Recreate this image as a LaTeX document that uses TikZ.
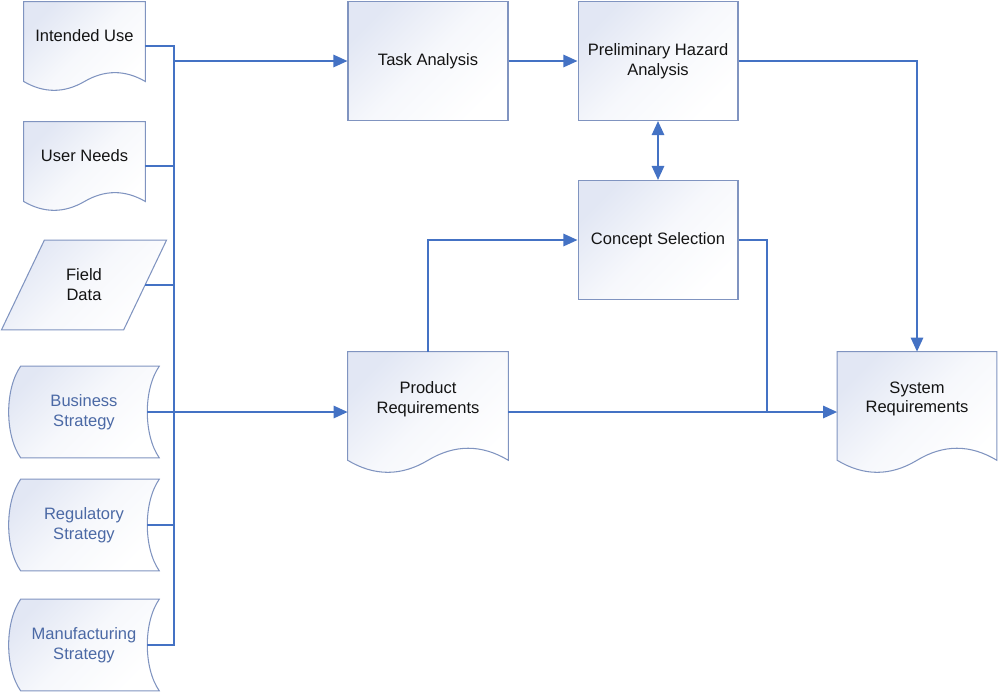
\documentclass[tikz,border=0pt]{standalone}
\usepackage{fontspec}
\setmainfont{Liberation Sans}
\usetikzlibrary{arrows.meta,calc,backgrounds}

\definecolor{linec}{RGB}{68,114,196}
\definecolor{edgec}{RGB}{128,148,192}
\definecolor{fillc}{RGB}{226,231,244}
\definecolor{stratc}{RGB}{75,105,165}
\definecolor{textc}{RGB}{20,20,20}

\tikzset{
  shapebox/.style={draw=edgec, line width=0.6pt, top color=fillc, bottom color=white, middle color=white!70!fillc, shading angle=45},
  txt/.style={font=\fontsize{9.4}{11.3}\selectfont, align=center, text=textc},
  procbox/.style={shapebox, txt, rectangle, minimum width=3.2cm, minimum height=2.38cm, inner sep=0pt},
  leftdoc/.style={minimum width=2.42cm, minimum height=1.76cm, inner sep=0pt},
  rightdoc/.style={minimum width=3.2cm, minimum height=2.4cm, inner sep=0pt},
  store/.style={txt, text=stratc, minimum width=2.52cm, minimum height=1.82cm, inner sep=0pt},
  dataio/.style={txt, minimum width=2.43cm, minimum height=1.78cm, inner sep=0pt},
  link/.style={draw=linec, line width=1.15pt},
  arrow/.style={link, -{Triangle[length=8pt,width=7pt]}},
  dblarrow/.style={link, {Triangle[length=8pt,width=7pt]}-{Triangle[length=8pt,width=7pt]}}
}

% document outline with wavy bottom
\newcommand{\docshape}[1]{%
  \path[shapebox] let \p1=(#1.north west), \p2=(#1.south east),
    \n1={0.1*(\y1-\y2)}, \n2={(\x2-\x1)/6} in
    (\x1,\y1) -- (\x2,\y1) -- (\x2,\y2+\n1)
    .. controls (\x2-\n2,\y2+2.33*\n1) and (\x2-2*\n2,\y2+2.33*\n1) .. (\x2-3*\n2,\y2+\n1)
    .. controls (\x2-4*\n2,\y2-0.33*\n1) and (\x2-5*\n2,\y2-0.33*\n1) .. (\x1,\y2+\n1)
    -- cycle;}
% stored data outline
\newcommand{\storeshape}[1]{%
  \path[shapebox] let \p1=(#1.north west), \p2=(#1.south east),
    \n1={(\y1-\y2)/4} in
    (\x1,\y1) -- (\x2+6.8pt,\y1)
    .. controls (\x2-2.3pt,\y1-\n1) and (\x2-2.3pt,\y2+\n1) .. (\x2+6.8pt,\y2)
    -- (\x1,\y2)
    .. controls (\x1-9.1pt,\y2+\n1) and (\x1-9.1pt,\y1-\n1) .. (\x1,\y1) -- cycle;}
% data (parallelogram) outline
\newcommand{\paralshape}[1]{%
  \path[shapebox] let \p1=(#1.north west), \p2=(#1.south east) in
    (\x1+12.2pt,\y1) -- (\x2+12.2pt,\y1) -- (\x2-12.2pt,\y2) -- (\x1-12.2pt,\y2) -- cycle;}

\begin{document}
\begin{tikzpicture}[x=0.02cm, y=-0.02cm]
\useasboundingbox (0,0) rectangle (999,691);

% Inputs
\node[leftdoc, label={[txt,yshift=6.2pt]center:Intended Use}] (intuse) at (84.5,46) {};
\node[leftdoc, label={[txt,yshift=6.2pt]center:User Needs}] (userneeds) at (84.5,166) {};
\node[dataio] (fielddata) at (84,285) {Field\\Data};
\node[store] (bizstrat) at (84,412) {Business\\Strategy};
\node[store] (regstrat) at (84,525) {Regulatory\\Strategy};
\node[store] (mfgstrat) at (84,645) {Manufacturing\\Strategy};

% Process boxes
\node[procbox] (taskan) at (428,61) {Task Analysis};
\node[procbox] (pha) at (658,61) {Preliminary Hazard\\Analysis};
\node[procbox] (concept) at (658,240) {Concept Selection};

% Requirements
\node[rightdoc, label={[txt,yshift=7.4pt]center:Product\\Requirements}] (prodreq) at (428,412) {};
\node[rightdoc, minimum width=3.18cm, label={[txt,yshift=7.4pt]center:System\\Requirements}] (sysreq) at (917,412) {};

% Outlines behind the texts
\begin{scope}[on background layer]
  \foreach \s in {intuse,userneeds,prodreq,sysreq} {\docshape{\s}}
  \foreach \s in {bizstrat,regstrat,mfgstrat} {\storeshape{\s}}
  \paralshape{fielddata}
\end{scope}

% Bus of inputs
\coordinate (bus) at (174,0);
\draw[link] (intuse.east) -| (bus |- mfgstrat.east) -- (mfgstrat.east);
\foreach \s in {userneeds,fielddata,regstrat} {\draw[link] (\s.east) -- (\s.east -| bus);}
\draw[arrow] (taskan.west -| bus) -- (taskan.west);
\draw[arrow] (bizstrat.east) -- (prodreq.west);

% Connectors
\draw[arrow] (taskan) -- (pha);
\draw[arrow] (pha.east) -| (sysreq.north);
\draw[dblarrow] (pha) -- (concept);
\draw[arrow] (prodreq.north) |- (concept.west);
\draw[arrow] (prodreq.east) -- (sysreq.west);
\coordinate (join) at (767,412);
\draw[link] (concept.east) -| (join);
\end{tikzpicture}
\end{document}
